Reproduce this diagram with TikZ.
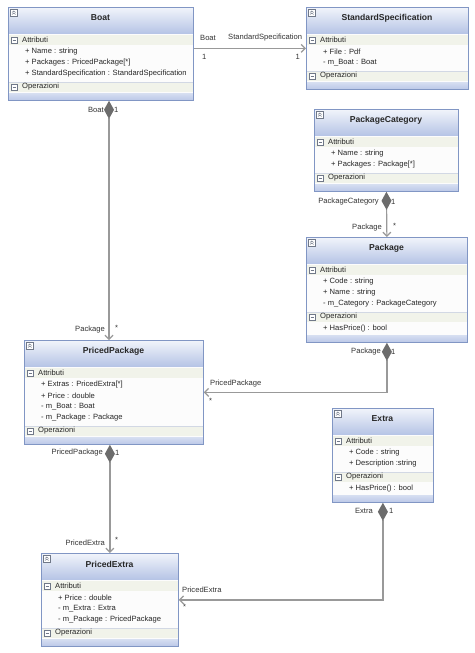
\documentclass[tikz,border=0pt]{standalone}
\usepackage{fontspec}
\setmainfont{Liberation Sans}
\usetikzlibrary{arrows.meta}

\definecolor{bordercol}{HTML}{8196C4}
\definecolor{headtop}{HTML}{F2F5FB}
\definecolor{headbot}{HTML}{B7C5E6}
\definecolor{barcol}{HTML}{F1F3EA}
\definecolor{bodycol}{HTML}{FCFCFC}
\definecolor{stripcol}{HTML}{BCC9E8}
\definecolor{sepcol}{HTML}{D2D8E4}
\definecolor{iconcol}{HTML}{707888}
\definecolor{linecol}{HTML}{999999}
\definecolor{diamcol}{HTML}{6C6C6C}

\begin{document}
\begin{tikzpicture}[x=1pt,y=-1pt,
    classbox/.style={draw=bordercol, line width=0.8pt, inner sep=0pt, anchor=north west},
    member/.style={font=\fontsize{7.6}{8}\selectfont, anchor=west, inner sep=0pt, text=black!85},
    lbl/.style={font=\fontsize{7.6}{8}\selectfont, inner sep=0pt, text=black!80},
    assoc/.style={draw=linecol, line width=1.2pt, -{Straight Barb[length=4pt,width=8pt]}},
    comp/.style={assoc, {Diamond[length=18pt,width=10pt,fill=diamcol,color=diamcol]}-{Straight Barb[length=4pt,width=8pt]}}]

\def\umlclass#1#2#3#4#5#6#7{%
  \foreach \attr [count=\i] in {#6} {\xdef\na{\i}}%
  \def\opx{#7}%
  \ifx\opx\empty\def\no{0}\else\def\no{1}\fi
  \pgfmathsetmacro\clsH{60+11*\na+12*\no}%
  \pgfmathsetmacro\Yop{47+11*\na}%
  \begin{scope}[shift={(#2,#3)}]
    \fill[bodycol] (0,0) rectangle (#4,\clsH);
    \shade[top color=headtop, bottom color=headbot] (0,0) rectangle (#4,26);
    \fill[barcol] (0,28) rectangle (#4,38);
    \fill[barcol] (0,\Yop-5) rectangle (#4,\Yop+5);
    \draw[sepcol] (0,\Yop-5) -- (#4,\Yop-5);
    \shade[top color=stripcol!60!white, bottom color=stripcol] (0,\clsH-7) rectangle (#4,\clsH);
    \node[classbox, minimum width=#4pt, minimum height=\clsH pt] (#1) at (0,0) {};
    \node[font=\bfseries\fontsize{8.6}{9}\selectfont, text=black!85] at (#4/2,11) {#5};
    % collapse icon
    \draw[iconcol, fill=white, line width=0.5pt] (2.5,2.5) rectangle (9,9);
    \draw[iconcol, line width=0.5pt] (4,5.5) -- (5.75,4) -- (7.5,5.5) (4,7.5) -- (5.75,6) -- (7.5,7.5);
    \foreach \yy/\lab in {33/Attributi, \Yop/Operazioni} {
      \draw[iconcol, fill=white, line width=0.5pt] (3,\yy-3) rectangle (9,\yy+3);
      \draw[iconcol, line width=0.5pt] (4.5,\yy) -- (7.5,\yy);
      \node[member] at (14,\yy) {\lab};
    }
    \foreach \attr [count=\i] in {#6} \node[member] at (17,34+11*\i) {\attr};
    \ifx\opx\empty\else \node[member] at (17,\Yop+12) {#7};\fi
  \end{scope}}

\useasboundingbox[fill=white] (0,0) rectangle (474,653);

% classes
\umlclass{boat}{8}{7}{185}{Boat}{+ Name : string, + Packages : PricedPackage[*], + StandardSpecification : StandardSpecification}{}
\umlclass{ss}{306}{7}{162}{StandardSpecification}{+ File : Pdf, - m\_Boat : Boat}{}
\umlclass{pc}{314}{109}{144}{PackageCategory}{+ Name : string, + Packages : Package[*]}{}
\umlclass{pkg}{306}{237}{161}{Package}{+ Code : string, + Name : string, - m\_Category : PackageCategory}{+ HasPrice() : bool}
\umlclass{pp}{24}{340}{179}{PricedPackage}{+ Extras : PricedExtra[*], + Price : double, - m\_Boat : Boat, - m\_Package : Package}{}
\umlclass{extra}{332}{408}{101}{Extra}{+ Code : string, + Description :string}{+ HasPrice() : bool}
\umlclass{pe}{41}{553}{137}{PricedExtra}{+ Price : double, - m\_Extra : Extra, - m\_Package : PricedPackage}{}

% connectors
\coordinate (c1) at (109,0);
\draw[assoc] (boat.east |- ss.west) -- (ss.west);
\draw[comp] (boat.south -| c1) -- (pp.north -| c1);
\draw[comp] (pc.south) -- (pkg.north);
\draw[comp] (pkg.south) |- (pp.east);
\draw[comp] (pp.south -| pe.north) -- (pe.north);
\draw[comp] (extra.south) |- (pe.east);

% labels
\node[lbl, anchor=west] at (200,38) {Boat};
\node[lbl, anchor=west] at (228,38) {StandardSpecification};
\node[lbl, anchor=west] at (202,57) {1};
\node[lbl, anchor=east] at (300,57) {1};
\node[lbl, anchor=east] at (104,110) {Boat};
\node[lbl, anchor=west] at (114,110) {1};
\node[lbl, anchor=east] at (105,330) {Package};
\node[lbl, anchor=west] at (115,328) {*};
\node[lbl, anchor=east] at (379,202) {PackageCategory};
\node[lbl, anchor=west] at (391,202) {1};
\node[lbl, anchor=east] at (382,228) {Package};
\node[lbl, anchor=west] at (393,226) {*};
\node[lbl, anchor=east] at (381,352) {Package};
\node[lbl, anchor=west] at (391,352) {1};
\node[lbl, anchor=west] at (210,384) {PricedPackage};
\node[lbl, anchor=west] at (209,401) {*};
\node[lbl, anchor=east] at (103,453) {PricedPackage};
\node[lbl, anchor=west] at (115,453) {1};
\node[lbl, anchor=east] at (105,543) {PricedExtra};
\node[lbl, anchor=west] at (115,540) {*};
\node[lbl, anchor=east] at (373,511) {Extra};
\node[lbl, anchor=west] at (389,511) {1};
\node[lbl, anchor=west] at (182,590) {PricedExtra};
\node[lbl, anchor=west] at (183,607) {*};

\end{tikzpicture}
\end{document}
